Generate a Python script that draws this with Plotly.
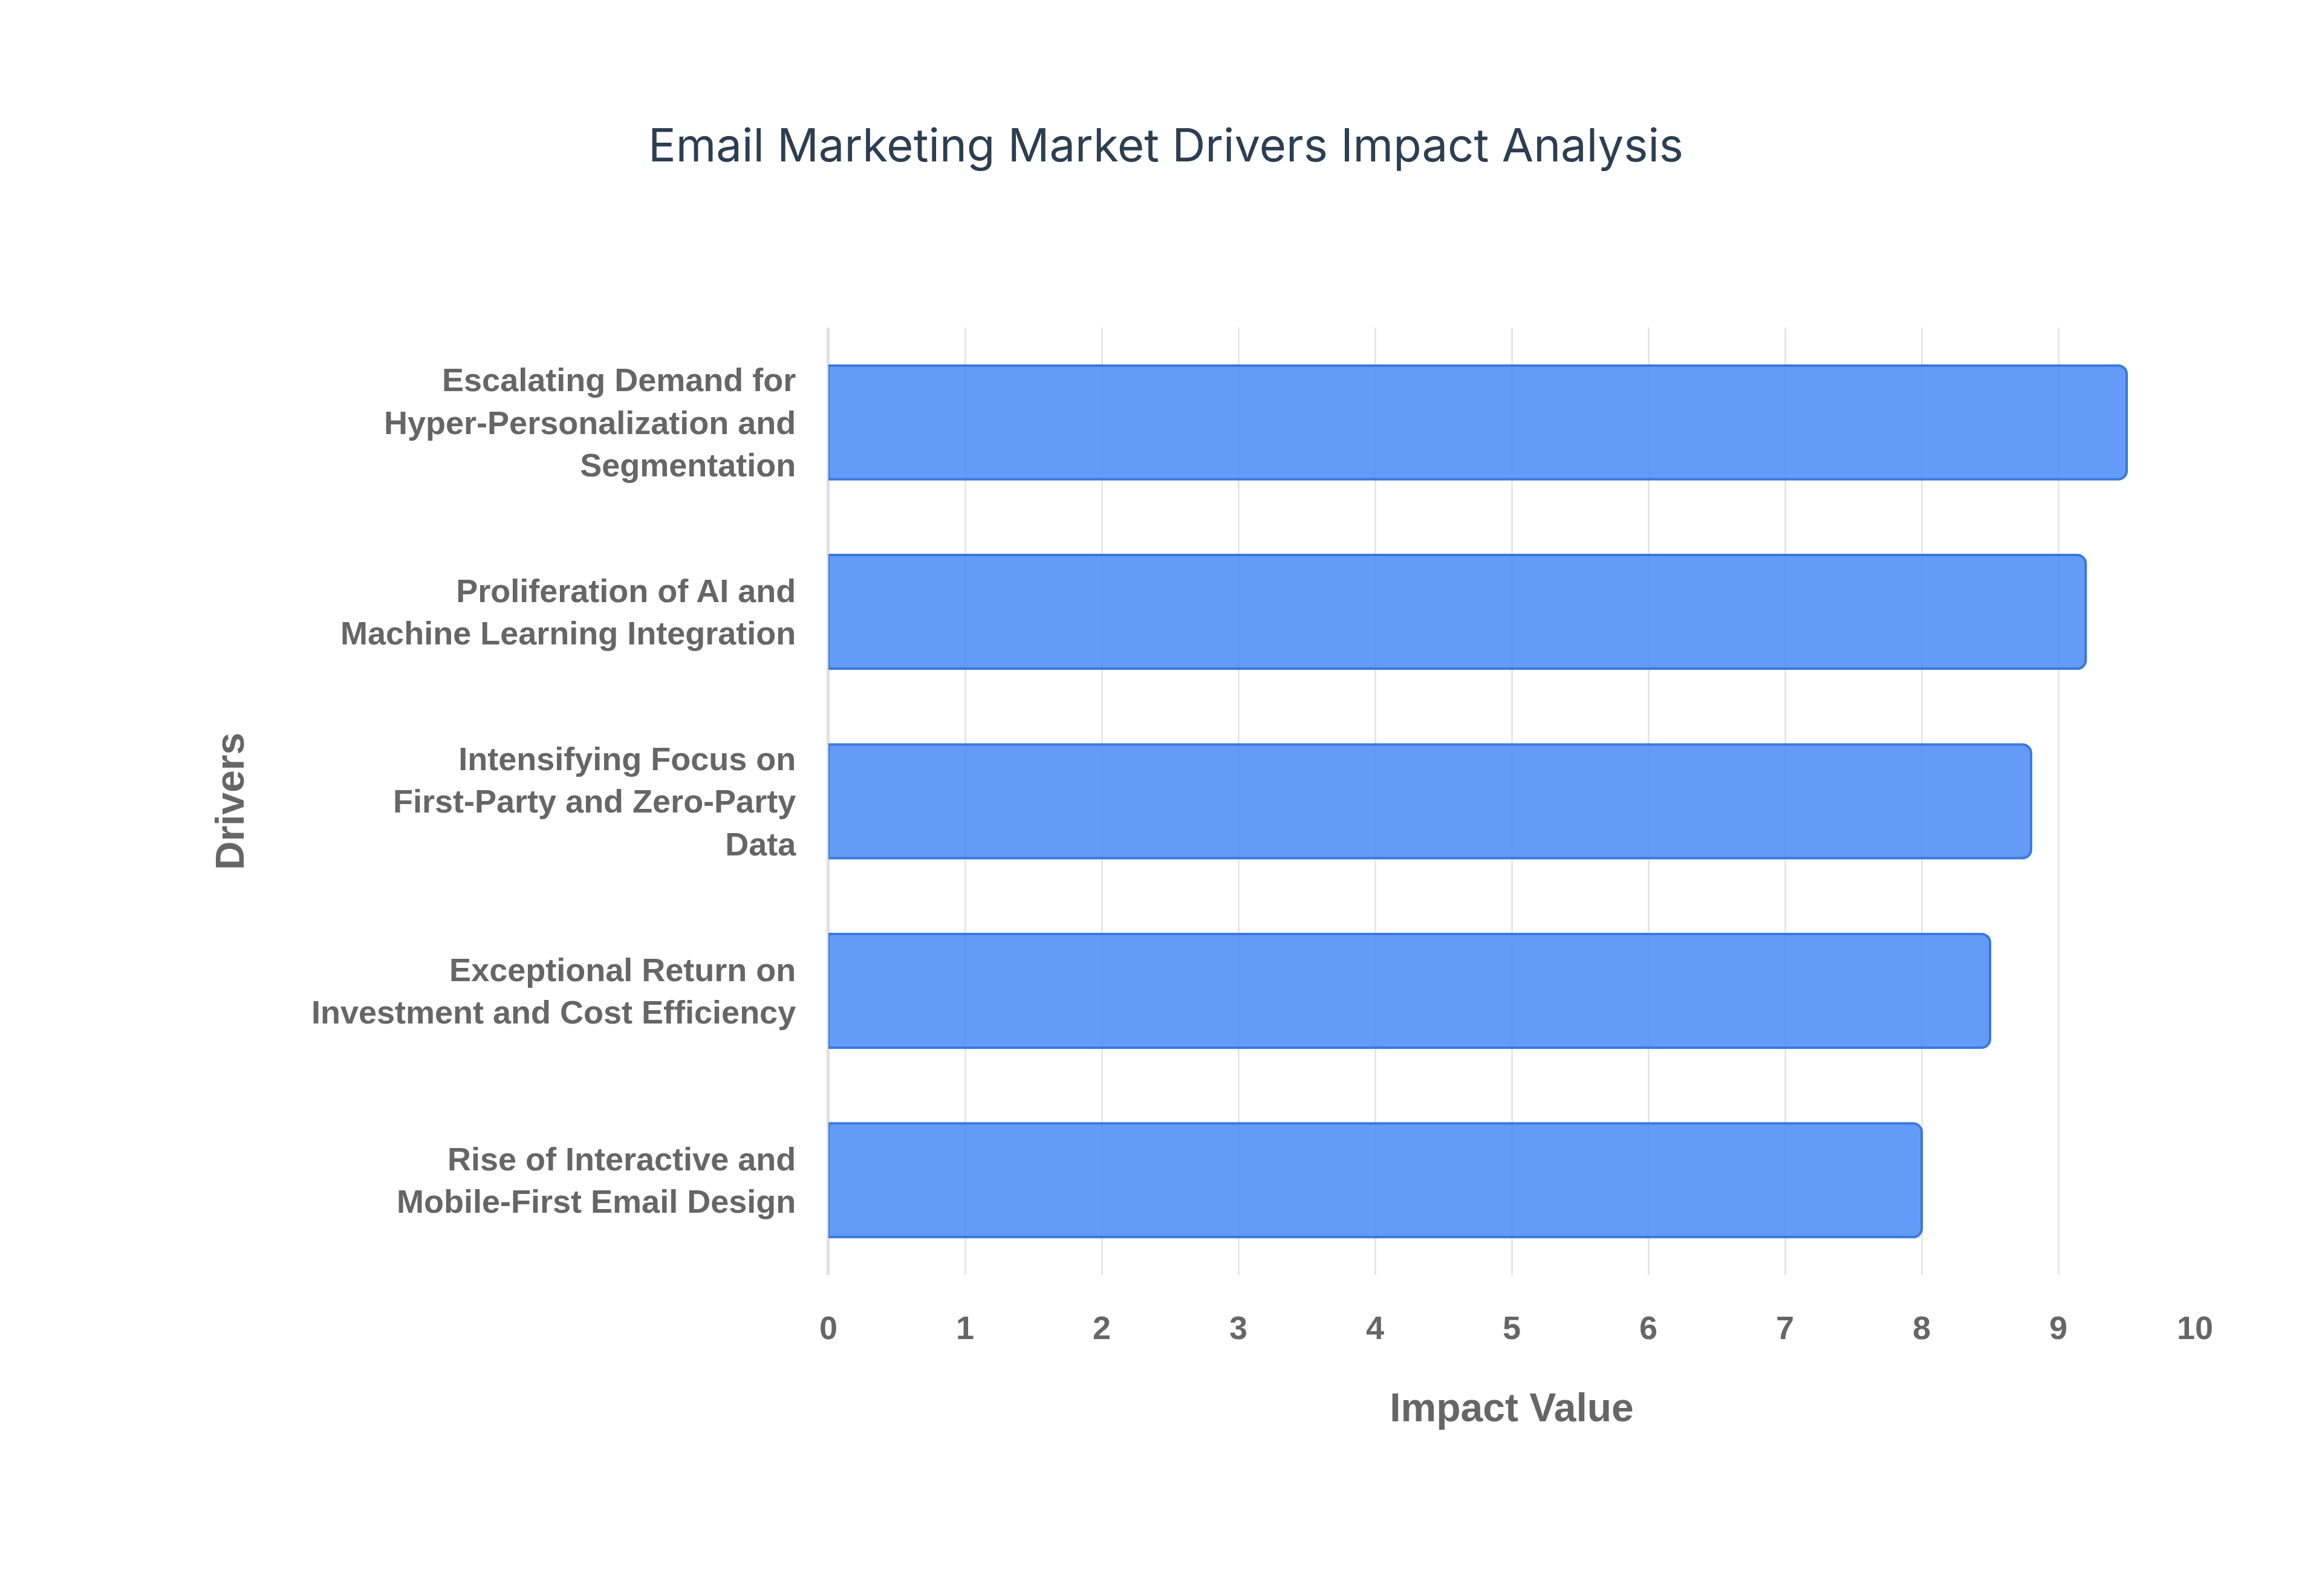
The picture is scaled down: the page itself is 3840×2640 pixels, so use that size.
import plotly.graph_objects as go

drivers = [
    "Rise of Interactive and<br>Mobile-First Email Design",
    "Exceptional Return on<br>Investment and Cost Efficiency",
    "Intensifying Focus on<br>First-Party and Zero-Party<br>Data",
    "Proliferation of AI and<br>Machine Learning Integration",
    "Escalating Demand for<br>Hyper-Personalization and<br>Segmentation",
]
impact = [8.0, 8.5, 8.8, 9.2, 9.5]

fig = go.Figure(go.Bar(
    x=impact, y=drivers, orientation="h", width=0.6,
    marker=dict(color="rgba(66,133,244,0.82)", line=dict(color="#3a78e0", width=4),
                cornerradius=14),
))

tick_font = dict(family="Liberation Sans", size=54, color="#666666", weight="bold")
title_font = dict(family="Liberation Sans", size=66, color="#666666", weight="bold")
fig.update_layout(
    width=3840, height=2640,
    paper_bgcolor="white", plot_bgcolor="white",
    margin=dict(l=1362, r=218, t=534, b=539),
    title=dict(text="Email Marketing Market Drivers Impact Analysis", x=0.5, y=0.912,
               yanchor="middle", font=dict(family="Inter", size=76, color="#2c3e50")),
    showlegend=False,
    bargap=0.4,
)
fig.update_xaxes(range=[0, 10], dtick=1, showgrid=True, gridcolor="#e6e6e6", gridwidth=3,
                 zeroline=True, zerolinecolor="#e0e0e0", zerolinewidth=3,
                 tickfont=tick_font, ticks="outside", ticklen=40, tickcolor="rgba(0,0,0,0)",
                 title=dict(text="Impact Value", standoff=80, font=title_font))
fig.update_yaxes(showgrid=False, tickfont=tick_font, ticks="outside", ticklen=40,
                 tickcolor="rgba(0,0,0,0)", showline=True, linecolor="#e0e0e0", linewidth=3,
                 title=dict(text="Drivers", standoff=90, font=title_font))

fig.write_html("out.html")
